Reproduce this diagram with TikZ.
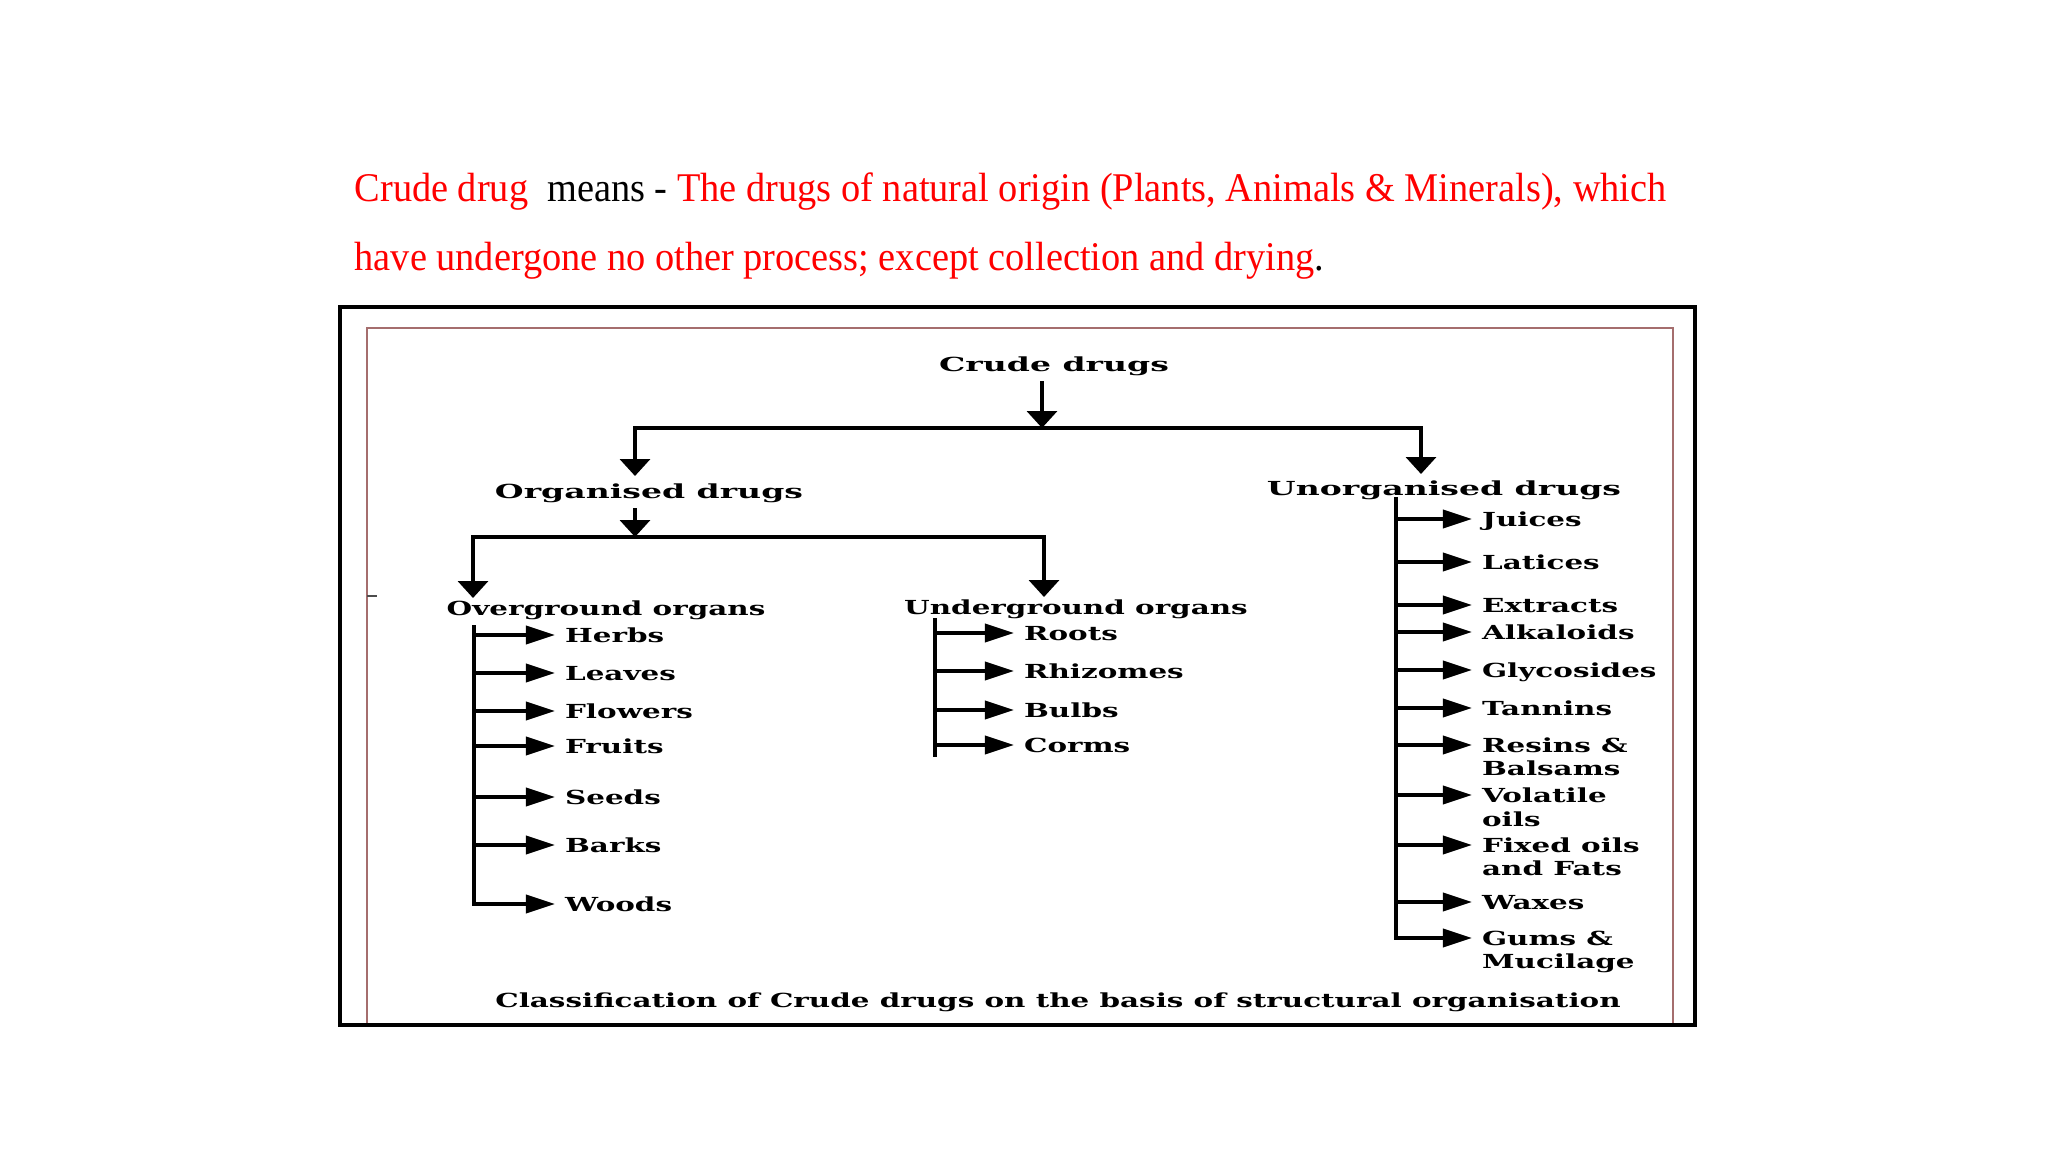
\documentclass[tikz,border=0pt]{standalone}
\usepackage{fontspec}
\setmainfont{Liberation Serif}
\newfontfamily\slidefont[FakeStretch=0.94]{Liberation Serif}
\newfontfamily\headfont[FakeStretch=1.71]{DejaVu Serif}
\newfontfamily\itemfont[FakeStretch=1.52]{DejaVu Serif}
\usetikzlibrary{arrows.meta,positioning}
\definecolor{framebrown}{RGB}{165,110,110}

\begin{document}
\begin{tikzpicture}[x=0.01cm, y=-0.01cm, line width=0.95pt,
    head/.style={font=\headfont\bfseries\fontsize{5.5}{6.7}\selectfont, anchor=base, inner sep=1pt},
    sub/.style={font=\itemfont\bfseries\fontsize{5.5}{6.7}\selectfont, anchor=base, inner sep=1pt},
    item/.style={font=\itemfont\bfseries\fontsize{5.5}{6.7}\selectfont, anchor=west, inner xsep=2.4pt, inner ysep=0pt, text height=4pt, text depth=0pt},
    down arrow/.style={-{Triangle[length=4.8pt,width=8.5pt]}},
    side arrow/.style={-{Triangle[length=8.3pt,width=5.2pt]}}]

    \useasboundingbox[fill=white] (0,0) rectangle (2048,1152);

    % Definition
    \node[anchor=base west, inner sep=0pt, text=red, font=\slidefont\fontsize{11.6}{14}\selectfont] (def1) at (353,202)
        {Crude drug~~\textcolor{black}{means -} The drugs of natural origin (Plants, Animals \& Minerals), which};
    \node[anchor=base west, inner sep=0pt, text=red, font=\slidefont\fontsize{11.6}{14}\selectfont] (def2) at (353,271)
        {have undergone no other process; except collection and drying\textcolor{black}{.}};

    % Frames
    \draw[framebrown, line width=0.6pt] (367,1025) -- (367,328) -- (1673,328) -- (1673,1025);
    \draw[black!70, line width=0.5pt] (367,596) -- (377,596);
    \draw[line width=1.1pt] (340,307) rectangle (1695,1025);

    % Top levels
    \node[head] (crude) at (1054,372) {Crude drugs};
    \node[head] (org) at (649,499) {Organised drugs};
    \node[head] (unorg) at (1444,495) {Unorganised drugs};
    \node[sub] (over) at (606,615) {Overground organs};
    \node[sub] (under) at (1076,614) {Underground organs};

    \coordinate (split1) at (1042,428);
    \coordinate (orgin) at (635,476);
    \coordinate (unorgin) at (1421,474);
    \draw[down arrow] (crude.south -| split1) -- (split1);
    \draw[down arrow] (split1) -| (orgin);
    \draw[down arrow] (split1) -| (unorgin);

    \coordinate (split2) at (635,537);
    \coordinate (overin) at (473,598);
    \coordinate (underin) at (1044,597);
    \draw[down arrow] (org.south -| split2) -- (split2);
    \draw[down arrow] (split2) -| (overin);
    \draw[down arrow] (split2) -| (underin);

    % Overground organs
    \coordinate (overbus) at (474,625);
    \node[item] (herbs) at (555,635) {Herbs};
    \node[item] (leaves) at (555,673) {Leaves};
    \node[item] (flowers) at (555,711) {Flowers};
    \node[item] (fruits) at (555,746) {Fruits};
    \node[item] (seeds) at (555,797) {Seeds};
    \node[item] (barks) at (555,845) {Barks};
    \node[item] (woods) at (555,904) {Woods};
    \foreach \n in {herbs,leaves,flowers,fruits,seeds,barks} {
        \draw[side arrow] (overbus |- \n.west) -- (\n.west);
    }
    \draw[side arrow] (overbus) |- (woods.west);

    % Underground organs
    \coordinate (underbus) at (935,618);
    \coordinate (underend) at (935,757);
    \node[item] (roots) at (1014,633) {Roots};
    \node[item] (rhizomes) at (1014,671) {Rhizomes};
    \node[item] (bulbs) at (1014,710) {Bulbs};
    \node[item] (corms) at (1014,745) {Corms};
    \draw (underbus) -- (underend);
    \foreach \n in {roots,rhizomes,bulbs,corms} {
        \draw[side arrow] (underbus |- \n.west) -- (\n.west);
    }

    % Unorganised drugs
    \coordinate (unorgbus) at (1396,497);
    \node[item] (juices) at (1472,519) {Juices};
    \node[item] (latices) at (1472,562) {Latices};
    \node[item] (extracts) at (1472,605) {Extracts};
    \node[item] (alkaloids) at (1472,632) {Alkaloids};
    \node[item] (glycosides) at (1472,670) {Glycosides};
    \node[item] (tannins) at (1472,708) {Tannins};
    \node[item] (resins) at (1472,745) {Resins \&};
    \node[item] (balsams) at (1472,768) {Balsams};
    \node[item] (volatile) at (1472,795) {Volatile};
    \node[item] (oils) at (1472,819) {oils};
    \node[item] (fixed) at (1472,845) {Fixed oils};
    \node[item] (fats) at (1472,868) {and Fats};
    \node[item] (waxes) at (1472,902) {Waxes};
    \node[item] (gums) at (1472,938) {Gums \&};
    \node[item] (mucilage) at (1472,961) {Mucilage};
    \foreach \n in {juices,latices,extracts,alkaloids,glycosides,tannins,resins,volatile,fixed,waxes} {
        \draw[side arrow] (unorgbus |- \n.west) -- (\n.west);
    }
    \draw[side arrow] (unorgbus) |- (gums.west);

    % Caption
    \node[sub] (caption) at (1058,1007) {Classification of Crude drugs on the basis of structural organisation};
\end{tikzpicture}
\end{document}
